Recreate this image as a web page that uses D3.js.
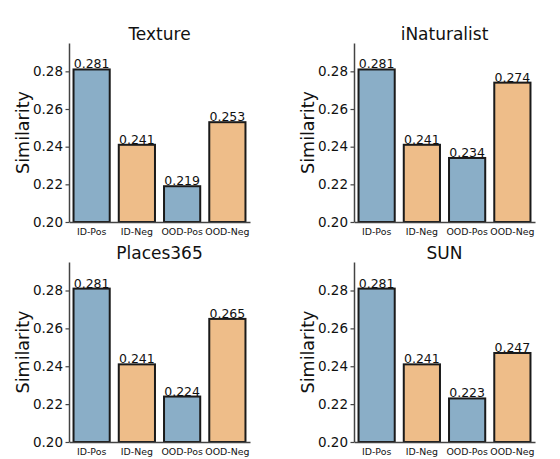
<!DOCTYPE html>
<html>
<head>
<meta charset="utf-8">
<script src="https://cdn.jsdelivr.net/npm/d3@7"></script>
<style>
  body { margin: 0; background: #fff; }
  text { font-family: "DejaVu Sans", sans-serif; fill: #111; }
</style>
</head>
<body>
<div id="chart"></div>
<script>
// data
const categories = ["ID-Pos", "ID-Neg", "OOD-Pos", "OOD-Neg"];
const datasets = ["Texture", "iNaturalist", "Places365", "SUN"];
const texture = [0.281, 0.241, 0.219, 0.253];
const inaturalist = [0.281, 0.241, 0.234, 0.274];
const places365 = [0.281, 0.241, 0.224, 0.265];
const sun = [0.281, 0.241, 0.223, 0.247];
const yTicks = [0.20, 0.22, 0.24, 0.26, 0.28];

const seriesValues = [texture, inaturalist, places365, sun];
const barColors = ["#8aaec7", "#eebd89", "#8aaec7", "#eebd89"];

const width = 560, height = 459;

// panel boxes (left, right, top, bottom)
const panels = [
  {x0: 69, x1: 250, y0: 43, y1: 222},
  {x0: 354, x1: 535, y0: 43, y1: 222},
  {x0: 69, x1: 250, y0: 262, y1: 442},
  {x0: 354, x1: 535, y0: 262, y1: 442}
];

const svg = d3.select("#chart")
  .append("svg")
  .attr("width", width)
  .attr("height", height);

svg.append("rect")
  .attr("width", width)
  .attr("height", height)
  .attr("fill", "#fff");

datasets.forEach(function(name, i) {
  const p = panels[i];
  const vals = seriesValues[i];
  const yMax = d3.max(vals) * 1.05;

  const x = d3.scaleBand()
    .domain(categories)
    .range([p.x0, p.x1])
    .paddingInner(0.2)
    .paddingOuter(0.1);

  const y = d3.scaleLinear()
    .domain([0.20, yMax])
    .range([p.y1, p.y0]);

  const g = svg.append("g");

  // bars
  g.selectAll("rect.bar")
    .data(vals)
    .enter()
    .append("rect")
    .attr("class", "bar")
    .attr("x", (d, j) => x(categories[j]))
    .attr("y", d => y(d))
    .attr("width", x.bandwidth())
    .attr("height", d => y(0.20) - y(d))
    .attr("fill", (d, j) => barColors[j])
    .attr("stroke", "#1a1a1a")
    .attr("stroke-width", 2);

  // value labels
  g.selectAll("text.val")
    .data(vals)
    .enter()
    .append("text")
    .attr("class", "val")
    .attr("x", (d, j) => x(categories[j]) + x.bandwidth() / 2)
    .attr("y", d => y(d) - 1)
    .attr("text-anchor", "middle")
    .attr("font-size", 12.5)
    .text(d => d3.format(".3f")(d));

  // axes
  const yAxis = g.append("g")
    .attr("transform", "translate(" + p.x0 + ",0)")
    .call(d3.axisLeft(y)
      .tickValues(yTicks)
      .tickFormat(d3.format(".2f"))
      .tickSize(3.5)
      .tickPadding(2.5)
      .tickSizeOuter(0));
  yAxis.selectAll("text").attr("font-size", 13.5).style("font-family", "DejaVu Sans").attr("fill", "#111");
  yAxis.selectAll("line").attr("stroke", "#444").attr("stroke-width", 1.2);
  yAxis.select(".domain").attr("stroke", "#444").attr("stroke-width", 1.5);

  const xAxis = g.append("g")
    .attr("transform", "translate(0," + p.y1 + ")")
    .call(d3.axisBottom(x).tickSize(0).tickPadding(6).tickSizeOuter(0));
  xAxis.selectAll("text").attr("font-size", 9.4).style("font-family", "DejaVu Sans").attr("fill", "#111");
  xAxis.select(".domain").attr("stroke", "#444").attr("stroke-width", 1.5);

  // title
  g.append("text")
    .attr("x", (p.x0 + p.x1) / 2)
    .attr("y", p.y0 - 3)
    .attr("text-anchor", "middle")
    .attr("font-size", 17)
    .text(name);

  // y label
  g.append("text")
    .attr("transform", "translate(" + (p.x0 - 40) + "," + ((p.y0 + p.y1) / 2) + ") rotate(-90)")
    .attr("text-anchor", "middle")
    .attr("font-size", 17.5)
    .text("Similarity");
});
</script>
</body>
</html>
